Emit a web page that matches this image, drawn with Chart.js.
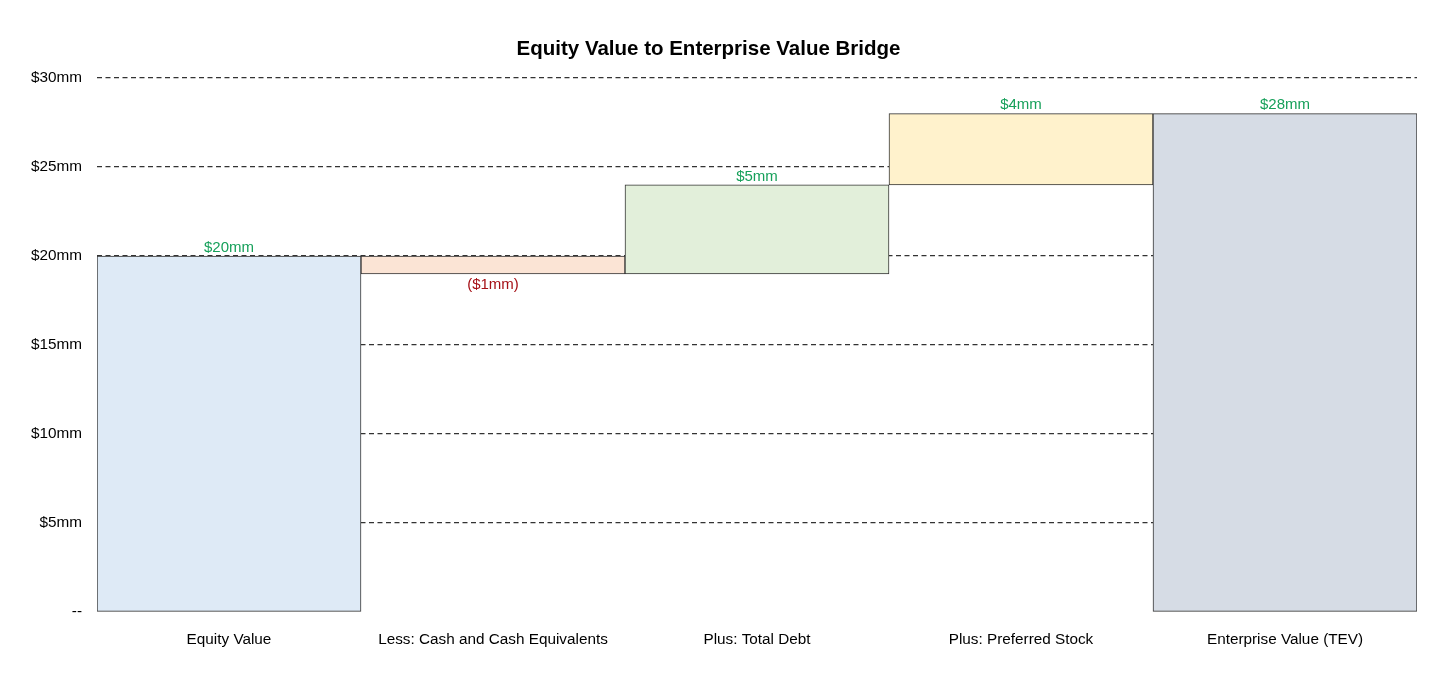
<!DOCTYPE html>
<html>
<head>
<meta charset="utf-8">
<script src="https://cdn.jsdelivr.net/npm/chart.js@4"></script>
<style>
  html, body { margin: 0; padding: 0; background: #fff; }
  #wrap { width: 1456px; height: 695px; }
</style>
</head>
<body>
<div id="wrap"><canvas id="chartBridge"></canvas></div>
<script>
const categories = ["Equity Value", "Less: Cash and Cash Equivalents", "Plus: Total Debt", "Plus: Preferred Stock", "Enterprise Value (TEV)"];
const changes = [20, -1, 5, 4, 28];
const isTotal = [true, false, false, false, true];
const barColors = ["#deeaf6", "#fbe4d5", "#e2efda", "#fff2cc", "#d6dce5"];

// build floating ranges from the running total
let running = 0;
const ranges = changes.map((v, i) => {
    if (isTotal[i]) {
        running = v;
        return [0, v];
    }
    const start = running;
    running += v;
    return [Math.min(start, running), Math.max(start, running)];
});

function fmtMM(v) {
    return v < 0 ? "($" + Math.abs(v) + "mm)" : "$" + v + "mm";
}

const barLabels = {
    id: "barLabels",
    afterDatasetsDraw(chart) {
        const ctx = chart.ctx;
        const meta = chart.getDatasetMeta(0);
        ctx.save();
        ctx.font = "15px 'Liberation Sans', Arial, sans-serif";
        ctx.textAlign = "center";
        meta.data.forEach((bar, i) => {
            const v = changes[i];
            const top = Math.min(bar.y, bar.base);
            const bottom = Math.max(bar.y, bar.base);
            if (v < 0) {
                ctx.fillStyle = "#a50f15";
                ctx.textBaseline = "top";
                ctx.fillText(fmtMM(v), bar.x, bottom + 3);
            } else {
                ctx.fillStyle = "#16a05a";
                ctx.textBaseline = "bottom";
                ctx.fillText(fmtMM(v), bar.x, top - 1);
            }
        });
        ctx.restore();
    }
};

new Chart(document.getElementById("chartBridge"), {
    type: "bar",
    data: {
        labels: categories,
        datasets: [{
            data: ranges,
            backgroundColor: barColors,
            borderColor: "#333",
            borderWidth: 1,
            borderSkipped: false,
            barPercentage: 1,
            categoryPercentage: 1
        }]
    },
    options: {
        responsive: true,
        maintainAspectRatio: false,
        animation: false,
        layout: { padding: { left: 0, right: 39, top: 0, bottom: 0 } },
        plugins: {
            legend: { display: false },
            tooltip: { enabled: false },
            title: {
                display: true,
                text: "Equity Value to Enterprise Value Bridge",
                color: "#000",
                font: { family: "'Liberation Sans', Arial, sans-serif", size: 20.5, weight: "bold" },
                padding: { top: 37, bottom: 16.5 }
            }
        },
        scales: {
            x: {
                grid: { display: false },
                border: { display: false },
                ticks: {
                    color: "#000",
                    padding: 11,
                    font: { family: "'Liberation Sans', Arial, sans-serif", size: 15.3 }
                },
                afterFit(scale) { scale.height = 83; }
            },
            y: {
                min: 0,
                max: 30,
                border: { display: false, dash: [5, 3.5] },
                grid: {
                    drawTicks: false,
                    color: c => c.tick && c.tick.value === 0 ? "rgba(0,0,0,0)" : "#333",
                    lineWidth: 1.3
                },
                ticks: {
                    stepSize: 5,
                    color: "#000",
                    padding: 15,
                    font: { family: "'Liberation Sans', Arial, sans-serif", size: 15.3 },
                    callback: v => v === 0 ? "--" : "$" + v + "mm"
                },
                afterFit(scale) { scale.width = 97; }
            }
        }
    },
    plugins: [barLabels]
});
</script>
</body>
</html>
